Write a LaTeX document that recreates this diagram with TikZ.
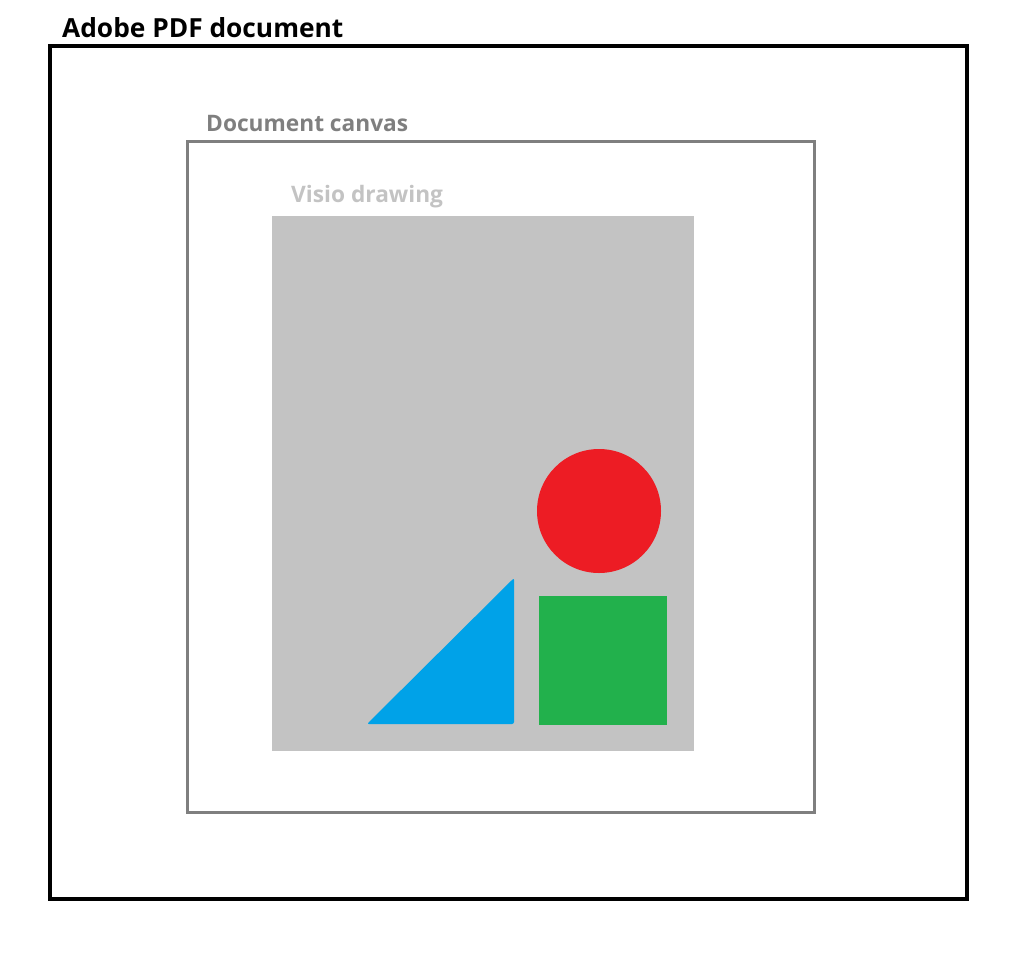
\documentclass[tikz,border=0pt]{standalone}
\usepackage{fontspec}
\setmainfont{Open Sans}
\usetikzlibrary{positioning}
\definecolor{frameGray}{HTML}{7F7F7F}
\definecolor{visioGray}{HTML}{C3C3C3}
\definecolor{shapeRed}{HTML}{ED1C24}
\definecolor{shapeGreen}{HTML}{22B14C}
\definecolor{shapeBlue}{HTML}{00A2E8}
\begin{document}
\begin{tikzpicture}[
        x=1pt, y=-1pt,
        frame/.style={rectangle, draw, outer sep=0pt, inner sep=0pt},
        lbl/.style={anchor=base west, inner sep=0pt, font=\bfseries\fontsize{22.7}{27}\selectfont}
    ]
    \useasboundingbox (0,0) rectangle (1024,953);
    % outer page
    \node[frame, line width=4pt, minimum width=917pt, minimum height=853pt] (pdf) at (508.5,472.5) {};
    \node[lbl, font=\bfseries\fontsize{26.3}{31}\selectfont] (pdflbl) at ([xshift=12pt,yshift=9pt]pdf.north west) {Adobe PDF document};
    % canvas
    \node[frame, draw=frameGray, line width=3pt, minimum width=627pt, minimum height=671pt] (canvas) at (500.5,476.5) {};
    \node[lbl, text=frameGray] (canvaslbl) at ([xshift=19pt,yshift=10pt]canvas.north west) {Document canvas};
    % drawing
    \node[frame, draw=none, fill=visioGray, minimum width=422pt, minimum height=535pt] (visio) at (483,483.5) {};
    \node[lbl, text=visioGray] (visiolbl) at ([xshift=19pt,yshift=14pt]visio.north west) {Visio drawing};
    % shapes
    \node[circle, fill=shapeRed, minimum size=124pt, inner sep=0pt] (ball) at (599,511) {};
    \node[rectangle, fill=shapeGreen, minimum width=128pt, minimum height=129pt, inner sep=0pt] (box) at (603,660.5) {};
    \fill[shapeBlue, rounded corners=2pt] (367,724) -- (514,578) -- (514,724) -- cycle;
\end{tikzpicture}
\end{document}
